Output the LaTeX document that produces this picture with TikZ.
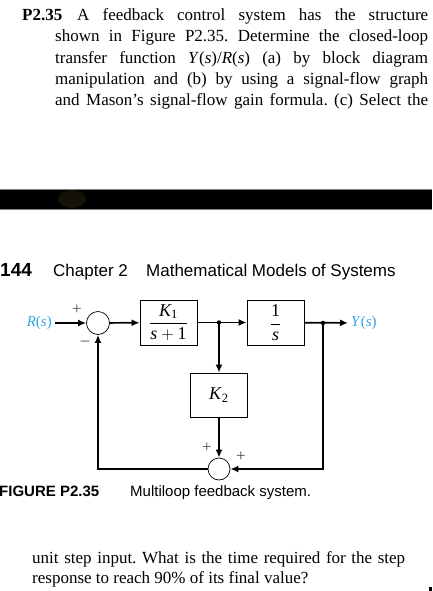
\documentclass[tikz,border=0pt]{standalone}
\usepackage{amsmath}
\usepackage{fontspec}
\setmainfont{Liberation Serif}
\newfontfamily\hdfont{Liberation Sans}
\usetikzlibrary{arrows.meta,positioning}
\definecolor{sigblue}{RGB}{45,165,225}
\definecolor{glow}{RGB}{20,18,6}
\frenchspacing

\begin{document}
\begin{tikzpicture}[x=1pt,y=-1pt,>={Latex[length=8pt,width=7pt]},
  blk/.style={draw,line width=0.9pt,minimum width=57pt,minimum height=45pt,inner sep=0pt,font=\fontsize{18}{20}\selectfont},
  sumnode/.style={draw,circle,line width=0.7pt,minimum size=23pt,inner sep=0pt},
  sig/.style={line width=1.7pt,->},
  sgn/.style={inner sep=0pt,font=\fontsize{17}{17}\selectfont,text=black!70},
  lbl/.style={inner sep=3pt,text=sigblue,font=\fontsize{15}{17}\selectfont},
  dot/.style={circle,fill,inner sep=0pt,minimum size=4.5pt},
  body/.style={anchor=base west,inner sep=0pt,font=\fontsize{17}{20}\selectfont},
  head/.style={anchor=base west,inner sep=0pt,font=\hdfont\fontsize{17}{20}\selectfont}]
\useasboundingbox (0,0) rectangle (432,591);

\node[body,font=\fontsize{17}{20}\selectfont\bfseries] (pnum) at (22,20.5) {P2.35};
\node[body] (t1) at (77,20.5) {\makebox[351pt][s]{A feedback control system has the structure}};
\node[body] (t2) at (55,41.8) {\makebox[373pt][s]{shown in Figure P2.35. Determine the closed-loop}};
\node[body] (t3) at (55,63.1) {\makebox[373pt][s]{transfer function \textit{Y}(\textit{s})/\textit{R}(\textit{s}) (a) by block diagram}};
\node[body] (t4) at (55,84.4) {\makebox[373pt][s]{manipulation and (b) by using a signal-flow graph}};
\node[body] (t5) at (55,105.7) {\makebox[373pt][s]{and Mason’s signal-flow gain formula. (c) Select the}};

\fill[black] (0,189) rectangle (432,209);
\fill[glow] (72,199) ellipse (14 and 9);
\draw[gray,line width=0.8pt] (0,189) -- (432,189) (0,209) -- (432,209);

\node[head,font=\hdfont\bfseries\fontsize{19}{20}\selectfont] (pg) at (0,276.5) {144};
\node[head] (chap) at (53,276.5) {Chapter 2};
\node[head] (ttl) at (146,276.5) {Mathematical Models of Systems};

\node[sumnode] (sum1) at (98,323) {};
\node[blk] (blk1) at (168.5,322.5) {$\dfrac{\textit{K}_{\text{1}}}{\textit{s}+\text{1}}$};
\node[blk] (blk2) at (275.5,322.5) {$\dfrac{\text{1}}{\textit{s}}$};
\node[sumnode,minimum size=22pt] (sum2) at (219,469) {};
\node[blk,minimum height=44pt] (blk3) at (219,395) {\textit{K}$_{\text{2}}$};
\coordinate (j1) at (sum2 |- blk1.east);
\coordinate (j2) at (323,323);
\node[dot] (d1) at (j1) {};
\node[dot] (d2) at (j2) {};
\node[lbl,anchor=east] (rin) at (55,323) {\textit{R}(\textit{s})};
\node[lbl,anchor=west] (yout) at (348,323) {\textit{Y}(\textit{s})};

\node[sgn] (p1) at (77,310) {+};
\node[sgn] (m1) at (85,343) {–};
\node[sgn] (p2) at (207,448) {+};
\node[sgn] (p3) at (241,457) {+};

\draw[sig] (rin) -- (sum1);
\draw[sig] (sum1) -- (blk1);
\draw[sig] (blk1) -- (blk2);
\draw[sig] (blk2) -- (yout);
\draw[sig] (j1) -- (blk3);
\draw[sig] (blk3) -- (sum2);
\draw[sig] (j2) |- (sum2);
\draw[sig] (sum2) -| (sum1);

\node[head,font=\hdfont\bfseries\fontsize{15}{17}\selectfont] (fig) at (-1,496) {FIGURE P2.35};
\node[head,font=\hdfont\fontsize{15}{17}\selectfont] (cap) at (130,496) {Multiloop feedback system.};

\node[body] (b1) at (32,563) {\makebox[373pt][s]{unit step input. What is the time required for the step}};
\node[body] (b2) at (32,583) {response to reach 90\% of its final value?};

\fill[black] (429,587) rectangle (432,591);
\end{tikzpicture}
\end{document}
